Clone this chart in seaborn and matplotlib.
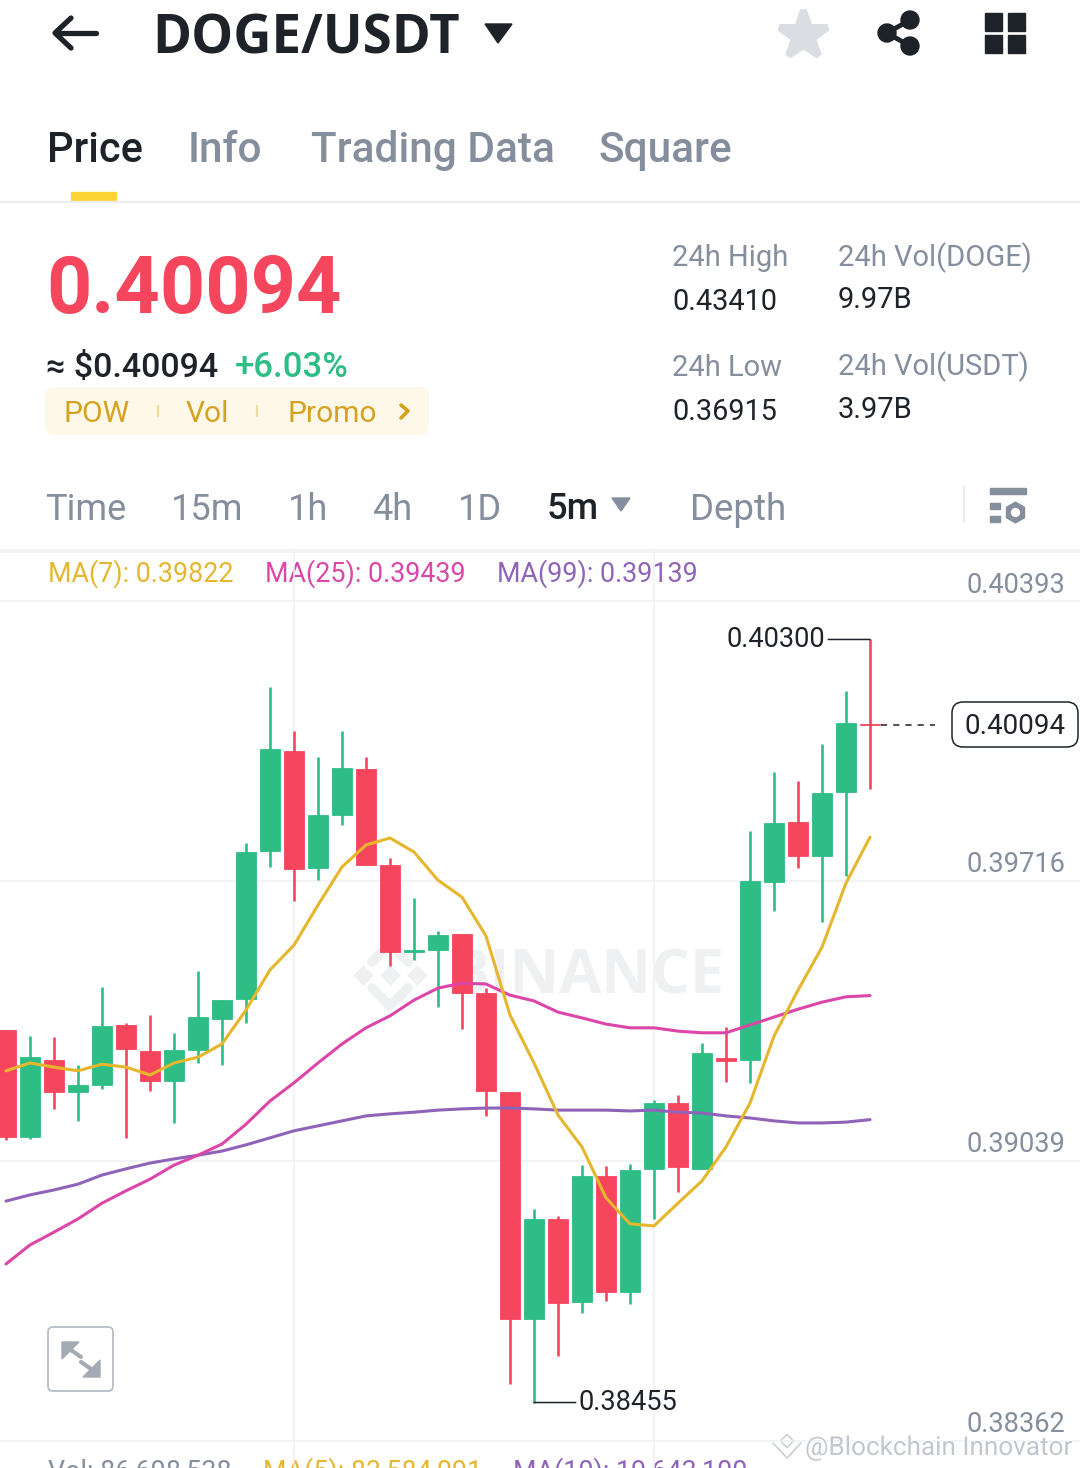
import pandas as pd
import matplotlib
matplotlib.use('Agg')
import matplotlib.pyplot as plt
import matplotlib.patheffects as pe
from matplotlib.patches import FancyBboxPatch, Polygon, Rectangle, Circle
import seaborn as sns

# candles, oldest first
opens = [0.39356, 0.39097, 0.39283, 0.39206, 0.39223, 0.39368, 0.39305, 0.39232, 0.39307, 0.39382,
         0.39431, 0.39789, 0.40030, 0.39747, 0.39876, 0.39987, 0.39755, 0.39544, 0.39549, 0.39588,
         0.39445, 0.39206, 0.38657, 0.38899, 0.38698, 0.39003, 0.38722, 0.39020, 0.39179, 0.39020,
         0.39288, 0.39283, 0.39714, 0.39859, 0.39776, 0.39931, 0.40096]
closes = [0.39097, 0.39290, 0.39206, 0.39223, 0.39365, 0.39310, 0.39232, 0.39307, 0.39387, 0.39428,
          0.39786, 0.40035, 0.39745, 0.39876, 0.39989, 0.39755, 0.39544, 0.39549, 0.39585, 0.39445,
          0.39208, 0.38657, 0.38899, 0.38696, 0.39003, 0.38722, 0.39017, 0.39179, 0.39025, 0.39300,
          0.39281, 0.39716, 0.39856, 0.39776, 0.39929, 0.40098, 0.40094]
highs = [0.39356, 0.39341, 0.39339, 0.39271, 0.39460, 0.39373, 0.39392, 0.39349, 0.39498, 0.39428,
         0.39808, 0.40185, 0.40079, 0.40016, 0.40079, 0.40016, 0.39772, 0.39675, 0.39595, 0.39588,
         0.39457, 0.39206, 0.38923, 0.38906, 0.39029, 0.39027, 0.39032, 0.39187, 0.39199, 0.39324,
         0.39363, 0.39837, 0.39980, 0.39958, 0.40047, 0.40175, 0.40300]
lows = [0.39090, 0.39092, 0.39165, 0.39136, 0.39213, 0.39095, 0.39208, 0.39131, 0.39276, 0.39271,
        0.39373, 0.39750, 0.39668, 0.39718, 0.39851, 0.39755, 0.39510, 0.39525, 0.39411, 0.39358,
        0.39148, 0.38500, 0.38455, 0.38568, 0.38672, 0.38701, 0.38693, 0.38899, 0.38964, 0.39020,
        0.39230, 0.39228, 0.39643, 0.39747, 0.39617, 0.39728, 0.39938]

ma7 = [0.39257, 0.39276, 0.39266, 0.39257, 0.39273, 0.39266, 0.39247, 0.39276, 0.39290, 0.39322,
       0.39404, 0.39501, 0.39561, 0.39658, 0.39750, 0.39803, 0.39820, 0.39786, 0.39718, 0.39677,
       0.39583, 0.39392, 0.39276, 0.39150, 0.39073, 0.38950, 0.38887, 0.38882, 0.38937, 0.38991,
       0.39073, 0.39179, 0.39341, 0.39452, 0.39556, 0.39711, 0.39822]
ma25 = [0.38790, 0.38836, 0.38867, 0.38899, 0.38937, 0.38967, 0.38995, 0.39029, 0.39053, 0.39080,
        0.39128, 0.39184, 0.39228, 0.39276, 0.39322, 0.39361, 0.39390, 0.39428, 0.39457, 0.39469,
        0.39467, 0.39440, 0.39426, 0.39399, 0.39385, 0.39370, 0.39361, 0.39361, 0.39353, 0.39349,
        0.39349, 0.39368, 0.39387, 0.39406, 0.39423, 0.39436, 0.39439]
ma99 = [0.38942, 0.38957, 0.38969, 0.38983, 0.39005, 0.39020, 0.39034, 0.39044, 0.39053, 0.39063,
        0.39078, 0.39095, 0.39112, 0.39124, 0.39136, 0.39148, 0.39153, 0.39157, 0.39162, 0.39165,
        0.39167, 0.39167, 0.39165, 0.39162, 0.39162, 0.39162, 0.39160, 0.39162, 0.39157, 0.39155,
        0.39148, 0.39143, 0.39136, 0.39131, 0.39131, 0.39133, 0.39139]

price_ticks = [0.40393, 0.39716, 0.39039, 0.38362]
price_labels = ['0.40393', '0.39716', '0.39039', '0.38362']
time_grid = [12, 27]

GREEN = '#2ebd85'
RED = '#f6465d'
DARK = '#1e2329'
GREY = '#848e9c'
LINE = '#eef0f2'
YELLOW = '#e6b62c'
PINK = '#dc46a8'
PURPLE = '#8e63b8'
GOLD = '#d6a21e'
STAMP = '#c3c7cd'

candles = pd.DataFrame({'idx': range(len(opens)), 'open': opens, 'close': closes,
                        'high': highs, 'low': lows, 'ma7': ma7, 'ma25': ma25, 'ma99': ma99})

sns.set_theme(style='white')
plt.rcParams['font.family'] = ['Roboto', 'DejaVu Sans']

fig = plt.figure(figsize=(10.8, 14.68), dpi=100)

# screen furniture, in pixels, sits under the chart
ui = fig.add_axes([0, 0, 1, 1], zorder=1)
ui.set_xlim(0, 1080)
ui.set_ylim(1468, 0)
ui.axis('off')


def label(x, y, s, size, color=GREY, weight='normal', ha='left', family=None):
    # matplotlib centres on the box with descent, so nudge down to sit like the screenshot
    ui.text(x, y + 2.5, s, fontsize=size, color=color, fontweight=weight, ha=ha, va='center',
            family=family or ['Roboto', 'DejaVu Sans'])


# top bar
ui.plot([56, 96], [33, 33], color=DARK, lw=3.8, solid_capstyle='round')
ui.plot([71, 55, 71], [18, 33, 48], color=DARK, lw=3.8, solid_capstyle='round')
label(152, 37, 'DOGE/USDT', 38, DARK, 'bold', family=['Open Sans', 'DejaVu Sans'])
ui.add_patch(Polygon([(485, 24), (512, 24), (498, 43)], color=DARK))
ui.plot([803], [35], marker='*', ms=36, color='#dadde1', mec='#dadde1', mew=5, clip_on=False)
ui.plot([910, 887, 910], [20, 33, 46], color=DARK, lw=3.5)
for cx, cy in [(887, 33), (910, 20), (910, 46)]:
    ui.add_patch(Circle((cx, cy), 9, color=DARK))
for gx, gy in [(985, 13), (1008, 13), (985, 35), (1008, 35)]:
    ui.add_patch(Rectangle((gx, gy), 17, 18, color=DARK))

# tabs
label(47, 148, 'Price', 30, DARK, 'medium')
label(188, 148, 'Info', 30.5, GREY, 'medium')
label(311, 148, 'Trading Data', 30.5, GREY, 'medium')
label(599, 148, 'Square', 30.5, GREY, 'medium')
ui.add_patch(Rectangle((71, 192), 45, 9, color='#fcd535'))
ui.plot([0, 1080], [202, 202], color='#eaecef', lw=1.6)

# price block
label(46, 289, '0.40094', 57, RED, 'bold')
label(46, 365, '≈ $0.40094', 24.5, DARK, 'medium')
label(235, 365, '+6.03%', 25, GREEN, 'medium')
ui.add_patch(FancyBboxPatch((45, 387), 384, 48, boxstyle='round,pad=0,rounding_size=10',
                            fc='#fdf8e8', ec='none'))
label(64, 412, 'POW', 21.5, GOLD)
label(186, 412, 'Vol', 21.5, GOLD)
label(287, 412, 'Promo', 21.5, GOLD)
for sx in [158, 257]:
    ui.plot([sx, sx], [406, 416], color='#f0dca0', lw=1.6)
ui.plot([401, 408, 401], [405, 411, 418], color=GOLD, lw=2.6)

label(672, 256, '24h High', 21)
label(672, 300, '0.43410', 20.8, DARK)
label(672, 366, '24h Low', 21)
label(672, 410, '0.36915', 20.8, DARK)
label(838, 255, '24h Vol(DOGE)', 21)
label(838, 298, '9.97B', 21, DARK)
label(838, 364, '24h Vol(USDT)', 21)
label(838, 408, '3.97B', 21, DARK)

# interval row
label(45, 507, 'Time', 26)
label(171, 507, '15m', 26)
label(288, 507, '1h', 26)
label(372, 507, '4h', 26)
label(458, 507, '1D', 26)
label(547, 507, '5m', 26, DARK, 'medium')
ui.add_patch(Polygon([(612, 498), (630, 498), (621, 511)], color=GREY))
label(690, 507, 'Depth', 26.5)
ui.plot([964, 964], [487, 522], color='#eaecef', lw=1.6)
ui.add_patch(Rectangle((990, 488), 36, 6, color=GREY))
ui.add_patch(Rectangle((990, 503), 10, 6, color=GREY))
ui.add_patch(Rectangle((990, 516), 10, 6, color=GREY))
ui.scatter([1015], [512], marker='h', s=260, color=GREY, linewidths=0)
ui.scatter([1015], [512], marker='o', s=45, color='white', linewidths=0)
ui.plot([0, 1080], [551, 551], color='#f3f4f5', lw=3)

# legend row
label(48, 571, 'MA(7): 0.39822', 19.4, YELLOW)
label(265, 571, 'MA(25): 0.39439', 19.4, PINK)
label(497, 571, 'MA(99): 0.39139', 19.4, PURPLE)

# BINANCE watermark
WM = '#eff0f1'
label(449, 976, 'BINANCE', 44, WM, 'bold', family=['Open Sans', 'DejaVu Sans'])
ui.plot([372, 390, 408], [962, 944, 962], color=WM, lw=7)
ui.plot([372, 390, 408], [988, 1006, 988], color=WM, lw=7)
ui.scatter([363, 390, 417], [975, 975, 975], marker='D', s=110, color=WM, linewidths=0)

# last price tag
ui.add_patch(FancyBboxPatch((952, 702), 126, 45, boxstyle='round,pad=0,rounding_size=11',
                            fc='white', ec=DARK, lw=1.1))
label(1015, 724, '0.40094', 20, DARK, ha='center')

# expand button
ARROW = '#a4abb5'
ui.add_patch(FancyBboxPatch((48, 1327), 65, 64, boxstyle='round,pad=0,rounding_size=5',
                            fc='white', ec='#b7bdc6', lw=1.3))
ui.add_patch(Polygon([(62, 1342), (79, 1342), (62, 1359)], color=ARROW))
ui.add_patch(Polygon([(100, 1377), (83, 1377), (100, 1360)], color=ARROW))
ui.plot([68, 81], [1348, 1357], color=ARROW, lw=3)
ui.plot([94, 81], [1371, 1362], color=ARROW, lw=3)

# volume row, cut off by the bottom edge
label(48, 1469, 'Vol: 86,698,538', 19.4)
label(263, 1469, 'MA(5): 83,584,091', 19.4, YELLOW)
label(513, 1469, 'MA(10): 19,643,100', 19.4, PURPLE)

# chart
ax = fig.add_axes([0, 0, 1, (1468 - 551) / 1468], zorder=2)
ax.patch.set_alpha(0)
sns.despine(ax=ax, left=True, bottom=True, right=True, top=True)

up = candles[candles['close'] >= candles['open']]
down = candles[candles['close'] < candles['open']]
for part, color in [(up, GREEN), (down, RED)]:
    ax.vlines(part['idx'], part['low'], part['high'], color=color, lw=1.9, zorder=3)
    ax.bar(part['idx'], part['close'] - part['open'], bottom=part['open'], width=0.86,
           color=color, edgecolor=color, linewidth=0.6, zorder=3)

sns.lineplot(data=candles, x='idx', y='ma99', color=PURPLE, lw=2.2, ax=ax, zorder=4)
sns.lineplot(data=candles, x='idx', y='ma25', color=PINK, lw=2.2, ax=ax, zorder=4)
sns.lineplot(data=candles, x='idx', y='ma7', color=YELLOW, lw=2.2, ax=ax, zorder=4)

ax.set_xlim(-0.25, 44.75)
ax.set_ylim(0.382967, 0.405139)
ax.set_xlabel('')
ax.set_ylabel('')
ax.set_xticks(time_grid)
ax.set_yticks(price_ticks)
ax.tick_params(length=0, labelbottom=False, labelleft=False)
ax.grid(True, color=LINE, lw=1.1, zorder=0)
ax.set_axisbelow(True)

for val, txt in zip(price_ticks, price_labels):
    ax.annotate(txt, xy=(1, val), xycoords=('axes fraction', 'data'), xytext=(-15, 16),
                textcoords='offset pixels', ha='right', va='center', fontsize=19.6, color=GREY)

# high / low callouts and the last price dashes
ax.annotate('0.40300', xy=(36, max(highs)), xytext=(-45, 0), textcoords='offset pixels',
            ha='right', va='center', fontsize=19.6, color=DARK,
            arrowprops=dict(arrowstyle='-', color=DARK, lw=1.1, shrinkA=0, shrinkB=0, relpos=(1, 0.5)))
ax.annotate('0.38455', xy=(22, min(lows)), xytext=(45, 0), textcoords='offset pixels',
            ha='left', va='center', fontsize=19.6, color=DARK,
            arrowprops=dict(arrowstyle='-', color=DARK, lw=1.1, shrinkA=0, shrinkB=0, relpos=(0, 0.5)))
ax.plot([36.45, 38.7], [closes[-1], closes[-1]], color=DARK, lw=1.1, ls=(0, (4, 4)), zorder=2)

# reposter's stamp, painted over everything
ui.scatter([787], [1441], marker='D', s=45, facecolors='none', edgecolors=STAMP, linewidths=1)
ui.plot([773, 787, 801], [1443, 1458, 1443], color=STAMP, lw=1)
fig.text(805 / 1080, 1 - 1448 / 1468, '@Blockchain Innovator', fontsize=18.8, color=STAMP,
         ha='left', va='center', zorder=5,
         path_effects=[pe.withStroke(linewidth=1.5, foreground='white')])

fig.savefig('out.png', dpi=100)
